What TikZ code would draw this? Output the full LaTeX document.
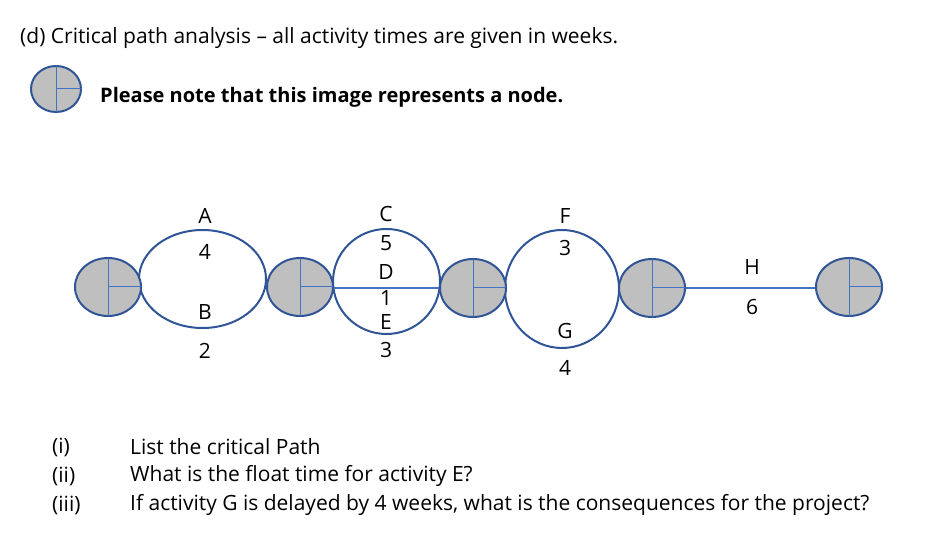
\documentclass[tikz,border=0pt]{standalone}
\usepackage{fontspec}
\setmainfont{Open Sans}
\definecolor{edg}{HTML}{2F5597}
\definecolor{crs}{HTML}{4472C4}
\definecolor{gry}{HTML}{BFBFBF}
\begin{document}
\begin{tikzpicture}[x=1pt,y=-1pt,
  ev/.style={draw=edg,line width=2pt},
  nd/.style={fill=gry,draw=edg,line width=2pt},
  cr/.style={draw=crs,line width=1pt},
  lab/.style={font=\fontsize{21}{24}\selectfont,inner sep=0pt},
  txt/.style={font=\fontsize{21}{24}\selectfont,anchor=west,inner sep=0pt}]
\useasboundingbox (0,0) rectangle (934,534);
\newcommand{\evnode}[4]{%
  \fill[nd] (#1,#2) ellipse [x radius=#3,y radius=#4];
  \draw[cr] (#1,#2-#4) -- (#1,#2+#4) (#1,#2) -- (#1+#3,#2);}
\node[txt] (title) at (20,38) {(d) Critical path analysis -- all activity times are given in weeks.};
\evnode{56}{89}{25}{23}
\node[txt,font=\fontsize{20}{24}\selectfont\bfseries] (note) at (100,97) {Please note that this image represents a node.};
% activity arcs
\draw[ev] (202.5,279) ellipse [x radius=63.5,y radius=49];
\draw[ev] (386.5,281.5) ellipse [x radius=53.5,y radius=52.5];
\draw[ev] (562,289) ellipse [x radius=57,y radius=59];
\draw[cr,line width=2pt] (333,288) -- (440,288);
\draw[cr,line width=2pt] (685,288) -- (816,288);
\evnode{108}{287}{33}{29}
\evnode{300}{287}{33}{29}
\evnode{473}{288}{33}{29}
\evnode{652}{288}{33}{29}
\evnode{849}{287}{33}{29}
% labels
\node[lab] (la) at (205,216) {A}; \node[lab] (l4) at (205,252) {4};
\node[lab] (lb) at (205,312) {B}; \node[lab] (l2) at (205,351) {2};
\node[lab] (lc) at (386,214) {C}; \node[lab] (l5) at (386,243) {5};
\node[lab] (ld) at (386,272) {D}; \node[lab] (l1) at (386,298) {1};
\node[lab] (le) at (386,322) {E}; \node[lab] (l3) at (386,350) {3};
\node[lab] (lf) at (565,216) {F}; \node[lab] (l3b) at (565,248) {3};
\node[lab] (lg) at (565,331) {G}; \node[lab] (l4b) at (565,368) {4};
\node[lab] (lh) at (752,267) {H}; \node[lab] (l6) at (752,307) {6};
% questions
\node[txt] (q1) at (52,447) {(i)};
\node[txt] (q2) at (52,476) {(ii)};
\node[txt] (q3) at (52,505) {(iii)};
\node[txt] (t1) at (130,447) {List the critical Path};
\node[txt] (t2) at (130,476) {What is the float time for activity E?};
\node[txt] (t3) at (130,505) {If activity G is delayed by 4 weeks, what is the consequences for the project?};
\end{tikzpicture}
\end{document}
